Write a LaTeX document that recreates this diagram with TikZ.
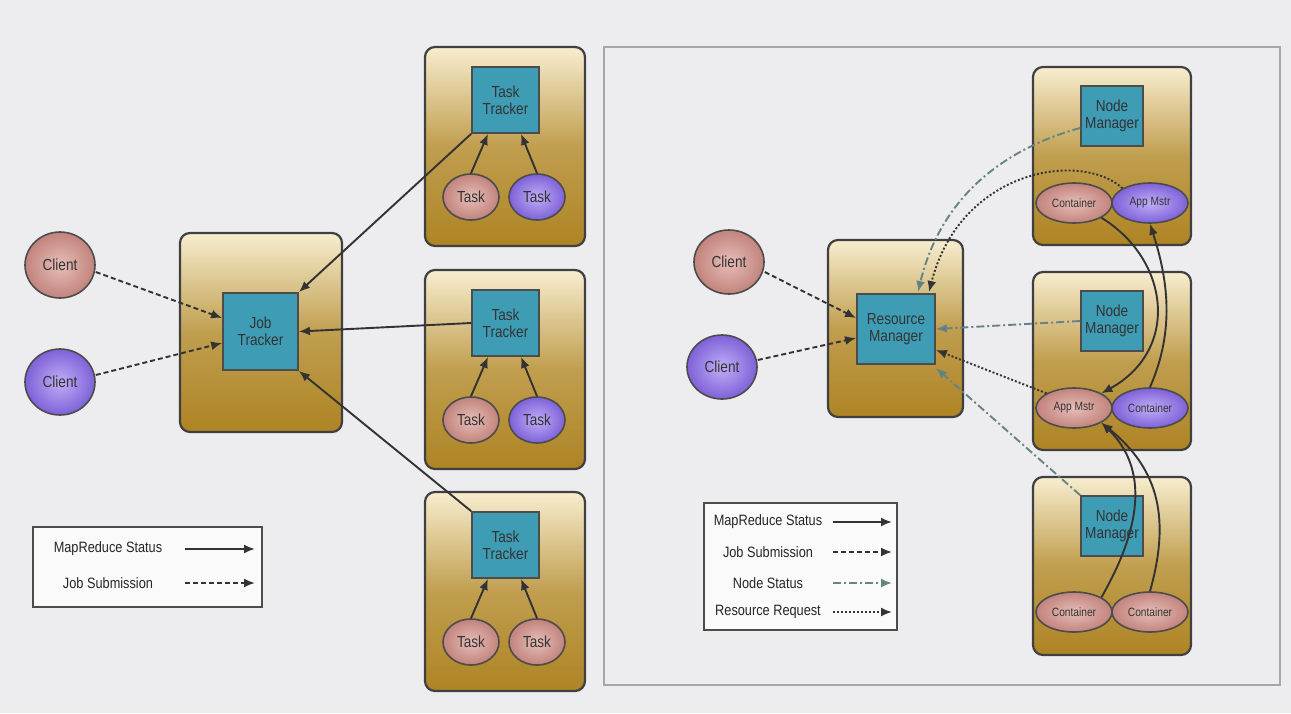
\documentclass[tikz,border=0pt]{standalone}
\usepackage{fontspec}
\setmainfont{Liberation Sans}
\usetikzlibrary{arrows.meta,shapes.geometric}
\definecolor{bg}{HTML}{EDECEF}
\definecolor{goldt}{HTML}{F7EDCF}
\definecolor{goldb}{HTML}{AE8424}
\definecolor{tealc}{HTML}{3E9DB5}
\definecolor{tealt}{HTML}{2E8A8A}
\definecolor{pinkc}{HTML}{D7928A}
\definecolor{purpc}{HTML}{8C6CF0}
\tikzset{
 goldbox/.style={draw=black!75,line width=2.2pt,rounded corners=10pt,top color=goldt,bottom color=goldb,middle color=goldb!75!goldt},
 tealbox/.style={draw=black!70,line width=1.8pt,fill=tealc,align=center,font=\fontsize{16}{17}\selectfont\addfontfeatures{FakeStretch=0.85},text=black!80},
 pinkell/.style={ellipse,draw=black!70,line width=1.6pt,inner color=pinkc!60!white,outer color=pinkc!90!black,font=\fontsize{16}{17}\selectfont\addfontfeatures{FakeStretch=0.85},text=black!80},
 purpell/.style={ellipse,draw=black!70,line width=1.6pt,inner color=purpc!55!white,outer color=purpc!90!black,font=\fontsize{16}{17}\selectfont\addfontfeatures{FakeStretch=0.85},text=black!80},
 smallt/.style={font=\fontsize{12}{13}\selectfont\addfontfeatures{FakeStretch=0.85}},
 mr/.style={-{Latex[length=11pt,width=9pt]},line width=1.9pt,black!80},
 js/.style={mr,dash pattern=on 5pt off 3pt},
 ns/.style={-{Latex[length=11pt,width=9pt,fill=tealt]},line width=1.9pt,gray!70!tealt,dash pattern=on 8pt off 3pt on 2pt off 3pt},
 rr/.style={mr,dash pattern=on 2pt off 2pt},
 legend/.style={draw=black!70,line width=2pt,fill=white!96!gray},
 lt/.style={font=\fontsize{15}{16}\selectfont\addfontfeatures{FakeStretch=0.85},text=black!85},
}
\begin{document}
\begin{tikzpicture}[x=1pt,y=-1pt]
\fill[bg] (0,0) rectangle (1291,713);
\useasboundingbox (0,0) rectangle (1291,713);
% right frame
\draw[gray!70,line width=1.3pt] (604,47) rectangle (1280,685);
% ---- left ----
\node[goldbox,minimum width=162,minimum height=199] (jtb) at (261,332.5) {};
\node[tealbox,minimum width=75,minimum height=77] (jt) at (260.5,331.5) {Job\\Tracker};
\node[pinkell,minimum width=70,minimum height=66] (c1) at (60,265) {Client};
\node[purpell,minimum width=70,minimum height=66] (c2) at (60,382) {Client};
\foreach \i/\y/\c in {1/0/purpell,2/223/purpell,3/445/pinkell}{
 \node[goldbox,minimum width=160,minimum height=199] (ttb\i) at (505,146.5+\y) {};
 \node[tealbox,minimum width=67,minimum height=66] (tt\i) at (505.5,100+\y) {Task\\Tracker};
 \node[pinkell,minimum width=56,minimum height=46] (ta\i) at (471,197+\y) {Task};
 \node[\c,minimum width=56,minimum height=46] (tb\i) at (537,197+\y) {Task};
 \draw[mr] (ta\i.north) -- (tt\i.south -| 488,0);
 \draw[mr] (tb\i.north) -- (tt\i.south -| 521,0);
}
\draw[mr] (tt1.south west) -- (jt.north east);
\draw[mr] (tt2.west) -- (jt.east);
\draw[mr] (tt3.north west) -- (jt.south east);
\draw[js] (c1.east) ++(0,7) coordinate (c1e) (c1e) -- (jt.west |- 0,318);
\draw[js] (c2.east) ++(0,-7) coordinate (c2e) (c2e) -- (jt.west |- 0,343);
% legend left
\node[legend,minimum width=229,minimum height=80] (lg1) at (147.5,567) {};
\node[lt] (l1) at (108,549) {MapReduce Status};
\node[lt] (l2) at (108,583) {Job Submission};
\coordinate (l1a) at (185,549); \coordinate (l1b) at (255,549);
\coordinate (l2a) at (185,583); \coordinate (l2b) at (255,583);
\draw[mr] (l1a) -- (l1b);
\draw[js] (l2a) -- (l2b);
% ---- right ----
\node[goldbox,minimum width=135,minimum height=177] (rmb) at (895.5,328.5) {};
\node[tealbox,minimum width=78,minimum height=70] (rm) at (896,329) {Resource\\Manager};
\node[pinkell,minimum width=70,minimum height=64] (rc1) at (729,262) {Client};
\node[purpell,minimum width=70,minimum height=64] (rc2) at (722,367) {Client};
\foreach \i/\y in {1/0,2/205,3/410}{
 \node[goldbox,minimum width=158,minimum height=178] (nmb\i) at (1112,156+\y) {};
 \node[tealbox,minimum width=62,minimum height=60] (nm\i) at (1112,116+\y) {Node\\Manager};
}
\node[pinkell,smallt,minimum width=76,minimum height=40,inner sep=1pt] (k1) at (1074,203) {Container};
\node[purpell,smallt,minimum width=76,minimum height=40,inner sep=1pt] (am1) at (1150,203) {App Mstr};
\node[pinkell,smallt,minimum width=76,minimum height=40,inner sep=1pt] (am2) at (1074,408) {App Mstr};
\node[purpell,smallt,minimum width=76,minimum height=40,inner sep=1pt] (k2) at (1150,408) {Container};
\node[pinkell,smallt,minimum width=76,minimum height=40,inner sep=1pt] (k3) at (1074,612) {Container};
\node[pinkell,smallt,minimum width=76,minimum height=40,inner sep=1pt] (k4) at (1150,612) {Container};
\draw[js] (rc1.east) ++(0,10) coordinate (rc1e) (rc1e) -- (rm.west |- 0,318);
\draw[js] (rc2.east) ++(0,-7) coordinate (rc2e) (rc2e) -- (rm.west |- 0,338);
\coordinate (rmt1) at (918,292); \coordinate (rmt2) at (929,292);
\draw[ns] (nm1.west |- 0,128) .. controls (1000,150) and (940,200) .. (rmt1);
\draw[rr] (am1.north west) .. controls (1080,150) and (960,170) .. (rmt2);
\draw[ns] (nm2.west) -- (rm.east);
\draw[rr] (am2.north west) -- (rm.east |- 0,350);
\draw[ns] (nm3.north west) -- (rm.east |- 0,368);
\draw[mr] (k1.south east) .. controls (1170,260) and (1180,350) .. (am2.north east);
\draw[mr] (k2.north) .. controls (1175,330) and (1168,280) .. (am1.south);
\draw[mr] (k3.north east) .. controls (1140,530) and (1150,470) .. (am2.south east);
\draw[mr] (k4.north) .. controls (1170,520) and (1160,470) .. (am2.south east);
% legend right
\node[legend,minimum width=193,minimum height=127] (lg2) at (800.5,566.5) {};
\node[lt] (r1) at (768,522) {MapReduce Status};
\node[lt] (r2) at (768,552) {Job Submission};
\node[lt] (r3) at (768,583) {Node Status};
\node[lt] (r4) at (768,612) {Resource Request};
\coordinate (r1a) at (833,522); \coordinate (r1b) at (892,522);
\coordinate (r2a) at (833,552); \coordinate (r2b) at (892,552);
\coordinate (r3a) at (833,583); \coordinate (r3b) at (892,583);
\coordinate (r4a) at (833,612); \coordinate (r4b) at (892,612);
\draw[mr] (r1a) -- (r1b);
\draw[js] (r2a) -- (r2b);
\draw[ns] (r3a) -- (r3b);
\draw[rr] (r4a) -- (r4b);
\end{tikzpicture}
\end{document}
